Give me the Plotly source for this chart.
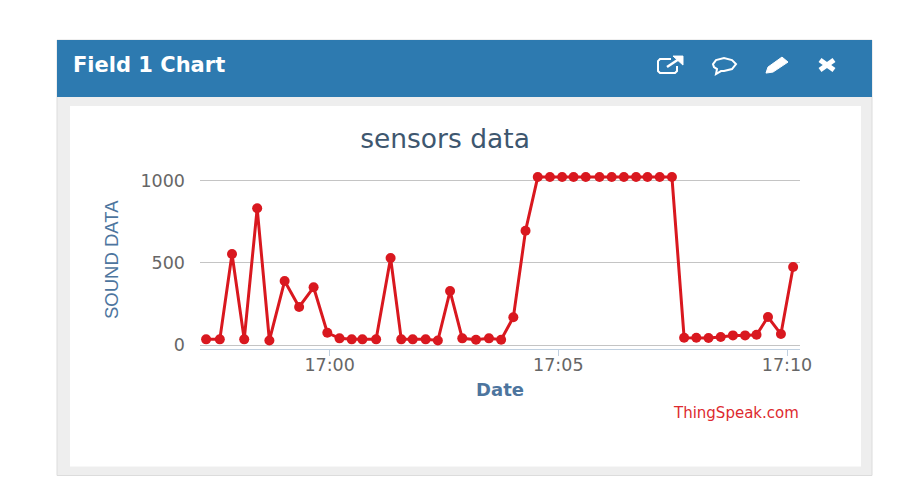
import plotly.graph_objects as go

W, H = 888, 487.5

# ---- data ----
day = "2017-03-01 "
times = ["16:57:18","16:57:36","16:57:52","16:58:08","16:58:25","16:58:41","16:59:01","16:59:20",
         "16:59:39","16:59:57","17:00:13","17:00:29","17:00:43","17:01:01","17:01:20","17:01:34",
         "17:01:49","17:02:06","17:02:22","17:02:38","17:02:54","17:03:12","17:03:29","17:03:45",
         "17:04:01","17:04:17","17:04:33","17:04:49","17:05:05","17:05:20","17:05:36","17:05:54",
         "17:06:10","17:06:26","17:06:42","17:06:57","17:07:13","17:07:29","17:07:45","17:08:01",
         "17:08:17","17:08:33","17:08:49","17:09:05","17:09:20","17:09:35","17:09:52","17:10:08"]
sound = [35,35,555,35,833,28,390,232,352,75,41,35,35,35,530,35,35,35,28,329,41,33,41,33,
         169,696,1023,1023,1023,1023,1023,1023,1023,1023,1023,1023,1023,1023,45,45,43,49,59,59,63,171,67,475]
x_ticks = ["17:00:00","17:05:00","17:10:00"]
x_tick_labels = ["17:00","17:05","17:10"]
y_ticks = [0,500,1000]
x_window = ["16:57:10","17:10:17"]
y_window = [-26,1065]

BLUE = "#2d7ab0"
RED = "#d9181f"
fx = lambda p: p / W
fy = lambda p: 1 - p / H

def rect(x0, y0, x1, y1, fill, line=None):
    return dict(type="rect", xref="paper", yref="paper", x0=fx(x0), x1=fx(x1), y0=fy(y0), y1=fy(y1),
                fillcolor=fill, line=dict(color=line or fill, width=1 if line else 0), layer="below")

def path(points, fill=None, line=None, width=0, close=True):
    d = "M " + " L ".join(f"{fx(a):.5f},{fy(b):.5f}" for a, b in points) + (" Z" if close else "")
    return dict(type="path", xref="paper", yref="paper", path=d, fillcolor=fill or "rgba(0,0,0,0)",
                line=dict(color=line or "rgba(0,0,0,0)", width=width), layer="above")

shapes = [
    rect(57, 40, 872, 475, "#eeeeee", "#dcdcdc"),
    rect(57, 40, 872, 97, BLUE),
    rect(70, 106, 861, 466, "#ffffff"),
    # external-link icon
    path([(671,59),(660,59),(658,61),(658,71),(660,73),(675,73),(677,71),(677,66)], line="white", width=2, close=False),
    path([(667,67),(679,59)], line="white", width=2.5, close=False),
    path([(673,56),(683,56),(683,65)], fill="white", line="white", width=1),
    # speech-bubble icon
    path([(713,64),(716,60),(724,58),(732,60),(736,64),(732,69),(724,71),(721,71),(716,74),(717,69),(714,67)],
         line="white", width=2),
    # pencil icon
    path([(782,57),(788,62),(773,72),(766,73),(768,67)], fill="white", line="white", width=1),
    # close icon
    path([(820,60),(834,70)], line="white", width=5, close=False),
    path([(834,60),(820,70)], line="white", width=5, close=False),
]

annotations = [
    dict(text="<b>Field 1 Chart</b>", x=fx(71), y=fy(65), xref="paper", yref="paper", xanchor="left", yanchor="middle",
         showarrow=False, font=dict(family="DejaVu Sans", size=21, color="white")),
    dict(text="ThingSpeak.com", x=fx(801), y=fy(413), xref="paper", yref="paper", xanchor="right", yanchor="middle",
         showarrow=False, font=dict(family="DejaVu Sans", size=15, color="#dd2a2f")),
]

fig = go.Figure(go.Scatter(
    x=[day + t for t in times], y=sound, mode="lines+markers",
    line=dict(color=RED, width=3), marker=dict(color=RED, size=10), cliponaxis=False,
))

fig.update_layout(
    autosize=True, margin=dict(l=0, r=0, t=0, b=0), showlegend=False,
    paper_bgcolor="white", plot_bgcolor="rgba(0,0,0,0)", shapes=shapes, annotations=annotations,
    title=dict(text="sensors data", x=fx(445), y=fy(139), xref="paper", yref="paper", xanchor="center", yanchor="middle",
               font=dict(family="DejaVu Sans", size=26.5, color="#3e576f")),
    xaxis=dict(
        domain=[fx(200), fx(800)], type="date", range=[day + t for t in x_window],
        tickvals=[day + t for t in x_ticks], ticktext=x_tick_labels,
        showgrid=False, zeroline=False, showline=True, linecolor="#c0d0e0", linewidth=1,
        ticks="outside", ticklen=6, tickcolor="#c0d0e0", ticklabelstandoff=-6,
        tickfont=dict(family="DejaVu Sans", size=17.5, color="#666666"),
        title=dict(text="<b>Date</b>", standoff=9, font=dict(family="DejaVu Sans", size=18, color="#4d759e")),
    ),
    yaxis=dict(
        domain=[fy(349), fy(170)], range=y_window, tickvals=y_ticks, ticktext=[str(v) for v in y_ticks],
        showgrid=True, gridcolor="#c4c4c4", gridwidth=1, zeroline=False, showline=False, ticks="",
        ticklabelstandoff=14, tickfont=dict(family="DejaVu Sans", size=17.5, color="#666666"),
        title=dict(text="SOUND DATA", standoff=16, font=dict(family="Liberation Sans", size=18.5, color="#4d759e")),
    ),
)

fig.write_html(
    "out.html",
    config=dict(displayModeBar=False, responsive=True),
    default_width="100vw",
    default_height="100vh",
    post_script="document.documentElement.style.overflow='hidden';document.body.style.margin='0';"
                "Plotly.Plots.resize(document.getElementById('{plot_id}'));",
)
